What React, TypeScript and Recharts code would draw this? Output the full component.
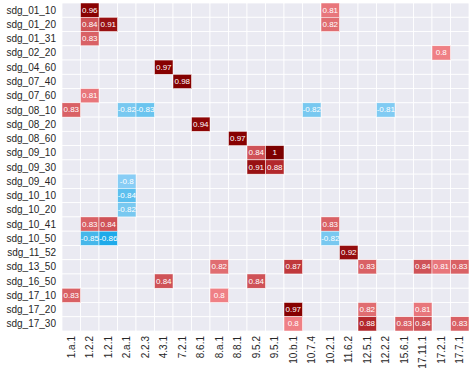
import React from 'react';
import { ScatterChart, Scatter, XAxis, YAxis } from 'recharts';

const rowLabels = [
  'sdg_01_10', 'sdg_01_20', 'sdg_01_31', 'sdg_02_20', 'sdg_04_60', 'sdg_07_40',
  'sdg_07_60', 'sdg_08_10', 'sdg_08_20', 'sdg_08_60', 'sdg_09_10', 'sdg_09_30',
  'sdg_09_40', 'sdg_10_10', 'sdg_10_20', 'sdg_10_41', 'sdg_10_50', 'sdg_11_52',
  'sdg_13_50', 'sdg_16_50', 'sdg_17_10', 'sdg_17_20', 'sdg_17_30',
];

const colLabels = [
  '1.a.1', '1.2.2', '1.2.1', '2.a.1', '2.2.3', '4.3.1', '7.2.1', '8.6.1', '8.a.1',
  '8.8.1', '9.5.2', '9.5.1', '10.b.1', '10.7.4', '10.2.1', '11.6.2', '12.5.1',
  '12.2.2', '15.6.1', '17.11.1', '17.2.1', '17.7.1',
];

// [row, column, correlation]; only |r| >= 0.8 is shown
const correlations: [string, string, number][] = [
  ['sdg_01_10', '1.2.2', 0.96], ['sdg_01_10', '10.2.1', 0.81],
  ['sdg_01_20', '1.2.2', 0.84], ['sdg_01_20', '1.2.1', 0.91], ['sdg_01_20', '10.2.1', 0.82],
  ['sdg_01_31', '1.2.2', 0.83],
  ['sdg_02_20', '17.2.1', 0.8],
  ['sdg_04_60', '4.3.1', 0.97],
  ['sdg_07_40', '7.2.1', 0.98],
  ['sdg_07_60', '1.2.2', 0.81],
  ['sdg_08_10', '1.a.1', 0.83], ['sdg_08_10', '2.a.1', -0.82], ['sdg_08_10', '2.2.3', -0.83],
  ['sdg_08_10', '10.7.4', -0.82], ['sdg_08_10', '12.2.2', -0.81],
  ['sdg_08_20', '8.6.1', 0.94],
  ['sdg_08_60', '8.8.1', 0.97],
  ['sdg_09_10', '9.5.2', 0.84], ['sdg_09_10', '9.5.1', 1],
  ['sdg_09_30', '9.5.2', 0.91], ['sdg_09_30', '9.5.1', 0.88],
  ['sdg_09_40', '2.a.1', -0.8],
  ['sdg_10_10', '2.a.1', -0.84],
  ['sdg_10_20', '2.a.1', -0.82],
  ['sdg_10_41', '1.2.2', 0.83], ['sdg_10_41', '1.2.1', 0.84], ['sdg_10_41', '10.2.1', 0.83],
  ['sdg_10_50', '1.2.2', -0.85], ['sdg_10_50', '1.2.1', -0.86], ['sdg_10_50', '10.2.1', -0.82],
  ['sdg_11_52', '11.6.2', 0.92],
  ['sdg_13_50', '8.a.1', 0.82], ['sdg_13_50', '10.b.1', 0.87], ['sdg_13_50', '12.5.1', 0.83],
  ['sdg_13_50', '17.11.1', 0.84], ['sdg_13_50', '17.2.1', 0.81], ['sdg_13_50', '17.7.1', 0.83],
  ['sdg_16_50', '4.3.1', 0.84], ['sdg_16_50', '9.5.2', 0.84],
  ['sdg_17_10', '1.a.1', 0.83], ['sdg_17_10', '8.a.1', 0.8],
  ['sdg_17_20', '10.b.1', 0.97], ['sdg_17_20', '12.5.1', 0.82], ['sdg_17_20', '17.11.1', 0.81],
  ['sdg_17_30', '10.b.1', 0.8], ['sdg_17_30', '12.5.1', 0.88], ['sdg_17_30', '15.6.1', 0.83],
  ['sdg_17_30', '17.11.1', 0.84], ['sdg_17_30', '17.7.1', 0.83],
];

const WIDTH = 474;
const HEIGHT = 376;
const margin = { top: 3, right: 5, bottom: 0, left: 0 };
const Y_AXIS_W = 62;
const X_AXIS_H = 45;
const cellW = (WIDTH - margin.left - margin.right - Y_AXIS_W) / colLabels.length;
const cellH = (HEIGHT - margin.top - margin.bottom - X_AXIS_H) / rowLabels.length;
const FONT = '"Liberation Sans", Arial, sans-serif';

// hand-picked stops to mimic the red / sky-blue colormap
const redStops: [number, string][] = [
  [0.8, '#ef8085'], [0.81, '#e8767b'], [0.82, '#e06d71'], [0.83, '#d96165'],
  [0.84, '#cf5257'], [0.87, '#c0383c'], [0.88, '#b3282c'], [0.91, '#981012'],
  [0.94, '#8d0606'], [0.97, '#870000'], [1.0, '#7c0000'],
];
const blueStops: [number, string][] = [
  [0.8, '#88cdf5'], [0.82, '#78c8f0'], [0.84, '#5cbfee'], [0.85, '#46b7ea'], [0.86, '#1eaaea'],
];

const hex = (c: string) => [1, 3, 5].map((i) => parseInt(c.slice(i, i + 2), 16));

function interp(stops: [number, string][], v: number) {
  if (v <= stops[0][0]) return stops[0][1];
  for (let i = 1; i < stops.length; i++) {
    if (v <= stops[i][0]) {
      const [v0, c0] = stops[i - 1];
      const [v1, c1] = stops[i];
      const t = (v - v0) / (v1 - v0);
      const a = hex(c0);
      const b = hex(c1);
      return `rgb(${a.map((x, k) => Math.round(x + (b[k] - x) * t)).join(',')})`;
    }
  }
  return stops[stops.length - 1][1];
}

const cellColor = (v: number) => (v >= 0 ? interp(redStops, v) : interp(blueStops, -v));

const gridData = rowLabels.flatMap((r, ri) =>
  colLabels.map((c, ci) => ({ x: ci + 0.5, y: ri + 0.5 }))
);

const valueData = correlations.map(([r, c, v]) => ({
  x: colLabels.indexOf(c) + 0.5,
  y: rowLabels.indexOf(r) + 0.5,
  v,
}));

const GridCell = (props: any) => {
  const { cx, cy } = props;
  return (
    <rect x={cx - cellW / 2} y={cy - cellH / 2} width={cellW} height={cellH}
      fill="#eaeaf2" stroke="#ffffff" strokeWidth={0.8} />
  );
};

const ValueCell = (props: any) => {
  const { cx, cy, payload } = props;
  return (
    <g>
      <rect x={cx - cellW / 2} y={cy - cellH / 2} width={cellW} height={cellH}
        fill={cellColor(payload.v)} stroke="#ffffff" strokeWidth={0.5} />
      <text x={cx} y={cy} textAnchor="middle" dominantBaseline="central"
        fill="#ffffff" fontSize={8} fontFamily={FONT}>
        {String(payload.v)}
      </text>
    </g>
  );
};

const XTick = (props: any) => {
  const { x, y, payload } = props;
  const label = colLabels[Math.floor(payload.value)];
  return (
    <text x={x} y={y} transform={`rotate(-90 ${x} ${y})`} textAnchor="end"
      dominantBaseline="central" fill="#262626" fontSize={10} fontFamily={FONT}>
      {label}
    </text>
  );
};

const centers = (n: number) => Array.from({ length: n }, (_, i) => i + 0.5);

export default function App() {
  return (
    <div style={{ position: 'absolute', left: 0, top: 0, width: WIDTH, height: HEIGHT, background: '#fff' }}>
      <ScatterChart width={WIDTH} height={HEIGHT} margin={margin}>
        <XAxis type="number" dataKey="x" domain={[0, colLabels.length]} ticks={centers(colLabels.length)}
          interval={0} height={X_AXIS_H} tickLine={false} axisLine={false} tickSize={5} tickMargin={0}
          tick={<XTick />} />
        <YAxis type="number" dataKey="y" domain={[0, rowLabels.length]} reversed
          ticks={centers(rowLabels.length)} interval={0} width={Y_AXIS_W}
          tickLine={false} axisLine={false} tickSize={5} tickMargin={1}
          tickFormatter={(v: number) => rowLabels[Math.floor(v)]}
          tick={{ fill: '#262626', fontSize: 10, fontFamily: FONT }} />
        <Scatter data={gridData} shape={<GridCell />} isAnimationActive={false} />
        <Scatter data={valueData} shape={<ValueCell />} isAnimationActive={false} />
      </ScatterChart>
    </div>
  );
}
